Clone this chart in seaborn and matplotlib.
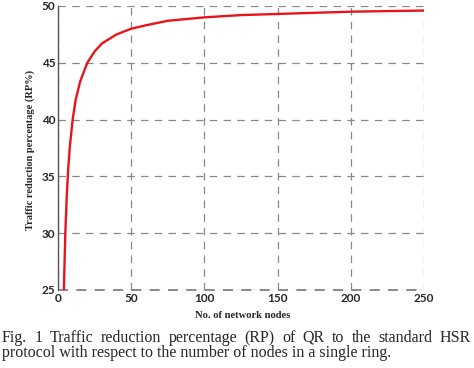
import matplotlib
matplotlib.use("Agg")
import matplotlib.pyplot as plt
import seaborn as sns
import pandas as pd

nodes = [4, 5, 6, 7, 8, 10, 12, 15, 20, 25, 30, 40, 50, 60, 75, 100, 125, 150, 175, 200, 225, 250]
rp = [25.0, 30.0, 33.3, 35.7, 37.5, 40.0, 41.7, 43.3, 45.0, 46.0, 46.7, 47.5, 48.0, 48.3, 48.7,
      49.0, 49.2, 49.3, 49.4, 49.5, 49.55, 49.6]
xticks = [0, 50, 100, 150, 200, 250]
yticks = [25, 30, 35, 40, 45, 50]
xlabel = "No. of network nodes"
ylabel = "Traffic reduction percentage (RP%)"
caption1 = "Fig. 1 Traffic reduction percentage (RP) of QR to the standard HSR"
caption2 = "protocol with respect to the number of nodes in a single ring."

df = pd.DataFrame({"nodes": nodes, "rp": rp})

sns.set_style("white")
fig = plt.figure(figsize=(4.74, 3.68), dpi=100)
ax = fig.add_axes([58/474, 1-290/368, (424-58)/474, (290-6)/368])

sns.lineplot(data=df, x="nodes", y="rp", ax=ax, color="#e8141c", linewidth=1.7)
ax.set_xlim(0, 250)
ax.set_ylim(25, 50)
ax.set_xticks(xticks)
ax.set_yticks(yticks)
ax.set_xticklabels([str(v) for v in xticks], fontfamily="Lato", fontweight="bold", fontsize=8.5)
ax.set_yticklabels([str(v) for v in yticks], fontfamily="Lato", fontweight="bold", fontsize=8.5)
ax.tick_params(direction="in", length=3, width=0.8, color="#555555", pad=2)
ax.set_xlabel("")
ax.set_ylabel("")
ax.grid(True, color="#888888", linestyle=(0, (6, 5)), linewidth=0.9)
ax.set_axisbelow(True)
for s in ["top", "right", "bottom"]:
    ax.spines[s].set_visible(False)
ax.spines["left"].set_color("#555555")
ax.spines["left"].set_linewidth(1.0)
ax.axhline(25, color="#777777", linestyle=(0, (6, 5)), linewidth=1.2, clip_on=False, zorder=1)

fig.text(243/474, 1-316/368, xlabel, ha="center", va="center",
         fontfamily="Liberation Serif", fontweight="bold", fontsize=7.6)
fig.text(30/474, 1-150/368, ylabel, ha="center", va="center", rotation=90,
         fontfamily="Liberation Serif", fontweight="bold", fontsize=7.5)

# caption, first line justified
fig.canvas.draw()
renderer = fig.canvas.get_renderer()
words = caption1.split(" ")
cap_kw = dict(fontfamily="Liberation Serif", fontsize=11.5, va="baseline", ha="left")
y1 = 1 - 342/368
texts = [fig.text(0, y1, w, **cap_kw) for w in words]
widths = [t.get_window_extent(renderer).width for t in texts]
x0, x1 = 2, 471
gap = (x1 - x0 - sum(widths)) / (len(words) - 1)
x = x0
for t, w in zip(texts, widths):
    t.set_x(x/474)
    x += w + gap
fig.text(2/474, 1-357/368, caption2, **cap_kw)

fig.savefig("out.png", dpi=100)
